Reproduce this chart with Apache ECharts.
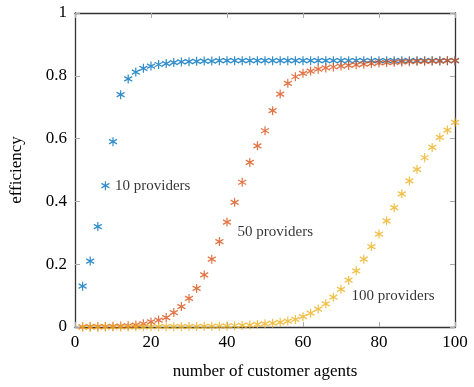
<!DOCTYPE html>
<html>
<head>
<meta charset="utf-8">
<script src="https://cdn.jsdelivr.net/npm/echarts@6/dist/echarts.min.js"></script>
<style>html,body{margin:0;padding:0;background:#fff}#c{width:474px;height:387px}</style>
</head>
<body>
<div id="c"></div>
<script>
var xValues = [2,4,6,8,10,12,14,16,18,20,22,24,26,28,30,32,34,36,38,40,42,44,46,48,50,52,54,56,58,60,62,64,66,68,70,72,74,76,78,80,82,84,86,88,90,92,94,96,98,100];
var blue10 = [0.13,0.21,0.32,0.45,0.59,0.74,0.79,0.812,0.824,0.831,0.836,0.839,0.842,0.844,0.845,0.846,0.847,0.847,0.848,
  0.848,0.848,0.848,0.848,0.848,0.848,0.848,0.848,0.848,0.848,0.848,0.848,0.848,0.848,0.848,0.848,0.848,0.848,0.848,0.848,0.848,0.848,0.848,0.848,0.848,0.848,0.848,0.848,0.848,0.848,0.848];
var red50 = [0.0005,0.001,0.001,0.0015,0.002,0.003,0.004,0.006,0.01,0.016,0.022,0.03,0.046,0.065,0.091,0.123,0.166,0.216,0.272,0.334,
  0.397,0.461,0.524,0.577,0.625,0.689,0.742,0.776,0.797,0.808,0.815,0.821,0.825,0.828,0.831,0.833,0.835,0.837,0.839,0.841,
  0.842,0.843,0.844,0.845,0.846,0.846,0.847,0.847,0.848,0.848];
var yellow100 = [0,0,0,0,0,0,0,0.0005,0.0005,0.0005,0.001,0.001,0.001,0.001,0.0015,0.0015,0.002,0.002,0.0025,0.003,
  0.004,0.005,0.006,0.008,0.01,0.012,0.015,0.019,0.024,0.033,0.044,0.057,0.074,0.095,0.12,0.149,0.179,0.216,0.256,0.296,
  0.338,0.38,0.424,0.465,0.502,0.539,0.572,0.604,0.627,0.652];
var seriesNames = ['10 providers','50 providers','100 providers'];
var labelAt = [8, 40, 70];
var xTicks = [0,20,40,60,80,100];
var yTicks = [0,0.2,0.4,0.6,0.8,1];

var colors = ['#0072BD','#D95319','#EDB120'];
var star = 'path://M0,-1L0,1M-0.866,-0.5L0.866,0.5M-0.866,0.5L0.866,-0.5';
var FONT = '"Liberation Serif","DejaVu Serif",serif';

function mk(vals, idx, labOffset) {
  return xValues.map(function(x, i) {
    var d = {value: [x, vals[i]]};
    if (x === labelAt[idx]) {
      d.label = {show: true, formatter: seriesNames[idx], position: 'right',
        offset: labOffset, color: '#000', fontFamily: FONT, fontSize: 15};
    }
    return d;
  });
}
var sets = [blue10, red50, yellow100];
var offs = [[0, 0], [1, 10], [1, 7]];
var series = sets.map(function(v, k) {
  return {
    type: 'scatter', name: seriesNames[k], data: mk(v, k, offs[k]),
    symbol: star, symbolSize: [8, 9],
    itemStyle: {color: 'rgba(0,0,0,0)', borderColor: colors[k], borderWidth: 1.3},
    emphasis: {disabled: true}, z: 2 + k
  };
});

var tickStyle = {show: true, inside: true, length: 5, lineStyle: {color: '#aaa', width: 1}};
var lineStyle = {show: true, onZero: false, lineStyle: {color: '#333', width: 1.3}};
var chart = echarts.init(document.getElementById('c'), null, {renderer: 'canvas'});
chart.setOption({
  animation: false,
  grid: {left: 75, right: 19, top: 13, bottom: 60, containLabel: false},
  xAxis: [{
    type: 'value', min: 0, max: 100, interval: 20,
    axisLine: lineStyle, axisTick: tickStyle, splitLine: {show: false},
    axisLabel: {color: '#000', fontFamily: FONT, fontSize: 17, margin: 7,
      formatter: function(v){ return xTicks.indexOf(v) >= 0 ? String(v) : ''; }},
    name: 'number of customer agents', nameLocation: 'middle', nameGap: 36,
    nameTextStyle: {color: '#000', fontFamily: FONT, fontSize: 17}
  }, {
    type: 'value', position: 'top', min: 0, max: 100, interval: 20,
    axisLine: lineStyle, axisTick: tickStyle, axisLabel: {show: false}, splitLine: {show: false}
  }],
  yAxis: [{
    type: 'value', min: 0, max: 1, interval: 0.2,
    axisLine: lineStyle, axisTick: tickStyle, splitLine: {show: false},
    axisLabel: {color: '#000', fontFamily: FONT, fontSize: 17, margin: 8,
      formatter: function(v){ var r = Math.round(v*10)/10; return String(r); }},
    name: 'efficiency', nameLocation: 'middle', nameGap: 50,
    nameTextStyle: {color: '#000', fontFamily: FONT, fontSize: 17}
  }, {
    type: 'value', position: 'right', min: 0, max: 1, interval: 0.2,
    axisLine: lineStyle, axisTick: tickStyle, axisLabel: {show: false}, splitLine: {show: false}
  }],
  series: series
});
</script>
</body>
</html>
